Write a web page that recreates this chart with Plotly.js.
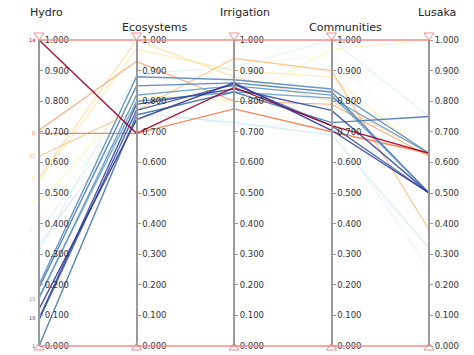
<!DOCTYPE html>
<html>
<head>
<meta charset="utf-8">
<script src="https://cdn.plot.ly/plotly-3.0.1.min.js"></script>
<style>html,body{margin:0;padding:0;background:#fff;}</style>
</head>
<body>
<div id="chart" style="width:474px;height:355px;"></div>
<script>
var axisNames = ['Hydro', 'Ecosystems', 'Irrigation', 'Communities', 'Lusaka'];
var hydro       = [1.00, 0.695, 0.705, 0.62, 0.55, 0.54, 0.47, 0.42, 0.38, 0.31, 0.33, 0.20, 0.19, 0.155, 0.16, 0.09, 0.085, 0.00, 0.12];
var ecosystems  = [0.695, 0.695, 0.93, 0.77, 1.00, 0.97, 0.82, 0.80, 0.78, 0.89, 0.76, 0.88, 0.85, 0.82, 0.80, 0.79, 0.77, 0.755, 0.74];
var irrigation  = [0.845, 0.775, 0.80, 0.94, 0.88, 0.90, 0.80, 0.92, 0.72, 0.91, 0.73, 0.87, 0.86, 0.85, 0.83, 0.84, 0.855, 0.83, 0.86];
var communities = [0.72, 0.70, 0.79, 0.90, 0.80, 0.88, 0.97, 0.95, 0.72, 1.00, 0.69, 0.84, 0.83, 0.82, 0.81, 0.77, 0.72, 0.73, 0.705];
var lusaka      = [0.63, 0.63, 0.62, 0.38, 0.63, 0.62, 1.00, 0.62, 0.25, 0.75, 0.32, 0.63, 0.50, 0.50, 0.63, 0.50, 0.50, 0.75, 0.50];
var colorValue  = [0.00, 0.22, 0.25, 0.30, 0.38, 0.42, 0.46, 0.55, 0.60, 0.62, 0.65, 0.86, 0.88, 0.84, 0.82, 0.97, 0.94, 0.90, 1.00];
var pointLabels = ['14', '8', '', '11', '5', '', '3', '', '17', '19', '', '', '', '15', '', '18', '', '1', ''];
var tickValues = [0, 0.1, 0.2, 0.3, 0.4, 0.5, 0.6, 0.7, 0.8, 0.9, 1.0];
var tickLabels = ['0.000', '0.100', '0.200', '0.300', '0.400', '0.500', '0.600', '0.700', '0.800', '0.900', '1.000'];

var colorscale = [[0,'#a50026'],[0.1,'#d73027'],[0.2,'#f46d43'],[0.3,'#fdae61'],[0.4,'#fee090'],[0.5,'#ffffbf'],[0.6,'#e0f3f8'],[0.7,'#abd9e9'],[0.8,'#74add1'],[0.9,'#4575b4'],[1,'#313695']];

function hexToRgb(h) { return [parseInt(h.substr(1,2),16), parseInt(h.substr(3,2),16), parseInt(h.substr(5,2),16)]; }
function scaleColor(v, alpha) {
  var k = 1;
  while (k < colorscale.length - 1 && v > colorscale[k][0]) k++;
  var a = colorscale[k-1], b = colorscale[k];
  var t = (v - a[0]) / (b[0] - a[0]);
  var ca = hexToRgb(a[1]), cb = hexToRgb(b[1]);
  var c = ca.map(function (x, j) { return Math.round(x + (cb[j] - x) * t); });
  return 'rgba(' + c.join(',') + ',' + (alpha == null ? 1 : alpha) + ')';
}

var series = [hydro, ecosystems, irrigation, communities, lusaka];
var axisIndex = axisNames.map(function (n, i) { return i; });
var nAx = axisNames.length;

// draw pale lines first, strong ones on top
var order = colorValue.map(function (c, i) { return i; });
order.sort(function (a, b) { return Math.abs(colorValue[a] - 0.5) - Math.abs(colorValue[b] - 0.5); });

var data = order.map(function (i) {
  var strong = Math.abs(colorValue[i] - 0.5) > 0.25;
  return {
    type: 'scatter', mode: 'lines', x: axisIndex,
    y: series.map(function (s) { return s[i]; }),
    line: { color: scaleColor(colorValue[i], strong ? 0.9 : 0.75), width: strong ? 1.4 : 1.1 },
    hoverinfo: 'skip', showlegend: false
  };
});
// each extra axis carries the values that sit on it (invisible markers) so the axis is drawn
for (var a = 1; a < nAx; a++) {
  data.push({
    type: 'scatter', mode: 'markers', x: series[a].map(function () { return a; }), y: series[a],
    yaxis: 'y' + (a + 1), marker: { size: 1, opacity: 0 }, hoverinfo: 'skip', showlegend: false
  });
}

var layout = {
  width: 474, height: 355,
  margin: { l: 39, r: 45, t: 40, b: 9 },
  paper_bgcolor: '#fff', plot_bgcolor: 'rgba(0,0,0,0)',
  showlegend: false,
  font: { family: 'DejaVu Sans' },
  xaxis: { range: [0, nAx - 1], visible: false, fixedrange: true },
  annotations: [], shapes: []
};

axisNames.forEach(function (n, i) {
  var key = i === 0 ? 'yaxis' : 'yaxis' + (i + 1);
  var ax = {
    range: [0, 1], anchor: 'free', position: i / (nAx - 1), side: 'right',
    tickvals: tickValues, ticktext: tickLabels, ticks: 'outside', ticklen: 3, tickcolor: '#999', tickwidth: 1,
    showline: true, linecolor: '#999', linewidth: 2, showgrid: false, zeroline: false, automargin: false,
    tickfont: { family: 'DejaVu Sans', size: 8.5, color: '#333' }, fixedrange: true
  };
  if (i > 0) ax.overlaying = 'y';
  layout[key] = ax;
});

var titleShift = [7, 18, 11, 14, 8];
var titleRaise = [28, 13, 28, 13, 28];
axisNames.forEach(function (n, i) {
  layout.annotations.push({ text: n, xref: 'paper', yref: 'paper', x: i / (nAx - 1), y: 1,
    xanchor: 'center', yanchor: 'middle', xshift: titleShift[i], yshift: titleRaise[i], showarrow: false,
    font: { family: 'DejaVu Sans', size: 11, color: '#222' } });
});

pointLabels.forEach(function (t, i) {
  if (!t) return;
  layout.annotations.push({ text: t, xref: 'x', yref: 'y', x: 0, y: hydro[i], xanchor: 'right', yanchor: 'middle',
    xshift: -2, showarrow: false, font: { family: 'DejaVu Sans', size: 5, color: scaleColor(colorValue[i], 1) } });
});

var limitColor = '#f28b8b';
[0, 1].forEach(function (yv) {
  layout.shapes.push({ type: 'line', xref: 'paper', yref: 'paper', x0: 0, x1: 1, y0: yv, y1: yv, line: { color: limitColor, width: 1.5 } });
});
axisIndex.forEach(function (xi) {
  var xp = xi / (nAx - 1);
  layout.shapes.push({ type: 'path', xref: 'paper', yref: 'paper', xsizemode: 'pixel', ysizemode: 'pixel', xanchor: xp, yanchor: 1,
    path: 'M -5 7 L 5 7 L 0 0 Z', line: { color: limitColor, width: 1 }, fillcolor: 'rgba(255,255,255,0)' });
  layout.shapes.push({ type: 'path', xref: 'paper', yref: 'paper', xsizemode: 'pixel', ysizemode: 'pixel', xanchor: xp, yanchor: 0,
    path: 'M -5 -4 L 5 -4 L 0 3 Z', line: { color: limitColor, width: 1 }, fillcolor: 'rgba(255,255,255,0)' });
});

Plotly.newPlot('chart', data, layout, { displayModeBar: false, staticPlot: true });
</script>
</body>
</html>
